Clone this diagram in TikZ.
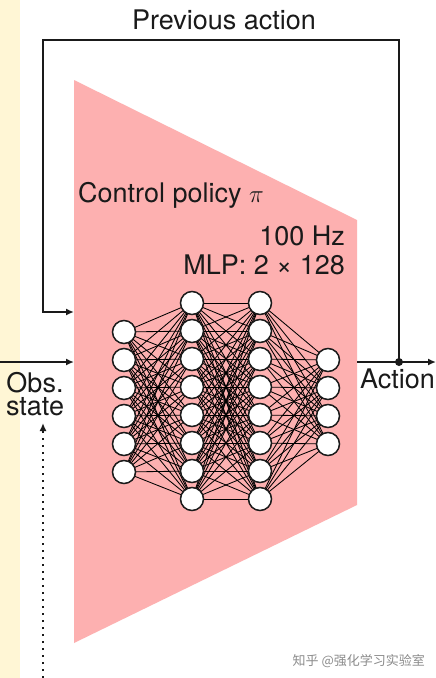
\documentclass[tikz,border=0pt]{standalone}
\usepackage{fontspec}
\setmainfont{TeX Gyre Heros}
\newfontfamily\cjk{Noto Sans CJK SC}
\usetikzlibrary{arrows.meta}
\definecolor{pinkfill}{HTML}{FDB0B0}
\definecolor{creamstrip}{HTML}{FFF6D5}
\definecolor{inkc}{HTML}{1A1A1A}
\pgfdeclarelayer{back}
\pgfdeclarelayer{edges}
\pgfsetlayers{back,edges,main}
\begin{document}
\begin{tikzpicture}[x=1pt,y=-1pt,
  conn/.style={line width=1.6pt, draw=inkc},
  tip/.style={-{Latex[length=8pt,width=7pt]}},
  neuron/.style={circle, draw=inkc, line width=1.5pt, fill=white, minimum size=23pt, inner sep=0pt},
  edge/.style={line width=0.85pt, draw=black},
  lbl/.style={font=\fontsize{27}{23}\selectfont, text=inkc, inner sep=0pt}]
\useasboundingbox (0,0) rectangle (436,678);
\begin{pgfonlayer}{back}
\fill[white] (0,0) rectangle (436,678);
\fill[creamstrip] (0,0) rectangle (20,678);
\fill[pinkfill] (74,80) -- (357,220) -- (357,505) -- (74,643) -- cycle;
\end{pgfonlayer}
% neurons
\foreach \i in {1,...,6} \node[neuron] (a\i) at (124,{332+28*(\i-1)}) {};
\foreach \i in {1,...,8} \node[neuron] (b\i) at (192,{303+28*(\i-1)}) {};
\foreach \i in {1,...,8} \node[neuron] (c\i) at (260,{303+28*(\i-1)}) {};
\foreach \i in {1,...,4} \node[neuron] (d\i) at (328,{360+28*(\i-1)}) {};
\begin{pgfonlayer}{edges}
\foreach \i in {1,...,6} \foreach \j in {1,...,8} \draw[edge] (a\i.center) -- (b\j.center);
\foreach \i in {1,...,8} \foreach \j in {1,...,8} \draw[edge] (b\i.center) -- (c\j.center);
\foreach \i in {1,...,8} \foreach \j in {1,...,4} \draw[edge] (c\i.center) -- (d\j.center);
\end{pgfonlayer}
% connector points
\coordinate (obsL) at (0,362);
\coordinate (polin2) at (74,362);
\coordinate (polin1) at (74,312);
\coordinate (polout) at (357,362);
\coordinate (actdot) at (399,362);
\coordinate (actR) at (436,362);
\coordinate (loopTL) at (43,40);
\coordinate (dotB) at (43,678);
\coordinate (dotT) at (43,423);
\draw[conn,tip] (actdot) |- (loopTL) |- (polin1);
\draw[conn,tip] (obsL) -- (polin2);
\draw[conn,tip] (polout) -- (actR);
\fill[inkc] (actdot) circle (4pt);
\draw[conn,tip,dash pattern=on 2.5pt off 4.5pt] (dotB) -- (dotT);
% labels
\node[lbl,anchor=base] (prev) at (224,29) {Previous action};
\node[lbl,anchor=base west] (ctrl) at (78,202) {Control policy $\pi$};
\node[lbl,anchor=base east] (hz) at (345,245) {100 Hz};
\node[lbl,anchor=base east] (mlp) at (345,274) {MLP: 2 × 128};
\node[lbl,anchor=base,text height=19pt,text depth=0pt] (obs) at (35,392) {Obs.};
\node[lbl,anchor=base,text height=17pt,text depth=0pt] (state) at (35,415) {state};
\node[lbl,anchor=base west] (act) at (360,388) {Action};
\node[anchor=base east, inner sep=0pt, text=black!45, font=\cjk\fontsize{13}{13}\selectfont] (wm) at (425,665) {知乎 @强化学习实验室};
\end{tikzpicture}
\end{document}
